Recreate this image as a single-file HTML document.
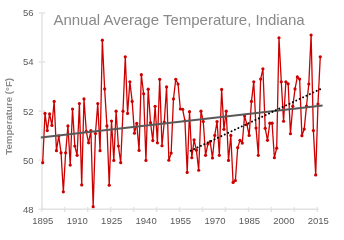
<!DOCTYPE html>
<html><head><meta charset="utf-8"><style>
html,body{margin:0;padding:0;background:#fff;}
body{width:344px;height:235px;overflow:hidden;}
svg{display:block;will-change:transform;}
text{font-family:"Liberation Sans",sans-serif;}
</style></head><body>
<svg width="344" height="235" viewBox="0 0 344 235">
<rect width="344" height="235" fill="#fff"/>
<g stroke="#e2e2e2" stroke-width="1.4" fill="none">
<line x1="42.0" y1="13.00" x2="42.0" y2="209.3"/>
<line x1="42.0" y1="209.3" x2="318.5" y2="209.3"/>
<line x1="38.7" y1="13.00" x2="45.2" y2="13.00"/><line x1="38.7" y1="62.06" x2="45.2" y2="62.06"/><line x1="38.7" y1="111.12" x2="45.2" y2="111.12"/><line x1="38.7" y1="160.18" x2="45.2" y2="160.18"/><line x1="38.7" y1="209.24" x2="45.2" y2="209.24"/><line x1="41.80" y1="207" x2="41.80" y2="212"/><line x1="64.76" y1="207" x2="64.76" y2="212"/><line x1="87.72" y1="207" x2="87.72" y2="212"/><line x1="110.68" y1="207" x2="110.68" y2="212"/><line x1="133.64" y1="207" x2="133.64" y2="212"/><line x1="156.60" y1="207" x2="156.60" y2="212"/><line x1="179.56" y1="207" x2="179.56" y2="212"/><line x1="202.52" y1="207" x2="202.52" y2="212"/><line x1="225.48" y1="207" x2="225.48" y2="212"/><line x1="248.44" y1="207" x2="248.44" y2="212"/><line x1="271.40" y1="207" x2="271.40" y2="212"/><line x1="294.36" y1="207" x2="294.36" y2="212"/><line x1="317.32" y1="207" x2="317.32" y2="212"/>
</g>
<g fill="#595959" font-size="9.5"><text x="33.6" y="16.40" text-anchor="end">56</text><text x="33.6" y="65.46" text-anchor="end">54</text><text x="33.6" y="114.52" text-anchor="end">52</text><text x="33.6" y="163.58" text-anchor="end">50</text><text x="33.6" y="212.64" text-anchor="end">48</text></g>
<g fill="#595959" font-size="9.5" text-anchor="middle"><text x="42.80" y="224">1895</text><text x="77.24" y="224">1910</text><text x="111.68" y="224">1925</text><text x="146.12" y="224">1940</text><text x="180.56" y="224">1955</text><text x="215.00" y="224">1970</text><text x="249.44" y="224">1985</text><text x="283.88" y="224">2000</text><text x="318.32" y="224">2015</text></g>
<text x="53.4" y="25.4" font-size="15" fill="#898989">Annual Average Temperature, Indiana</text>
<text transform="translate(12.1,154.8) rotate(-90)" font-size="9.7" font-weight="bold" fill="#8a8a8a">Temperature (°F)</text>
<g>
<polyline points="42.70,162.63 44.99,113.41 47.29,130.55 49.58,113.90 51.88,125.41 54.17,101.41 56.46,150.63 58.76,135.94 61.05,152.84 63.35,191.78 65.64,152.84 67.93,125.90 70.23,165.08 72.52,109.00 74.82,145.98 77.11,155.29 79.40,103.61 81.70,184.92 83.99,98.96 86.29,131.29 88.58,142.80 90.87,130.55 93.17,206.72 95.46,133.49 97.76,103.61 100.05,150.63 102.34,40.18 104.64,88.92 106.93,125.90 109.23,185.16 111.52,121.00 113.81,160.43 116.11,111.20 118.40,145.98 120.70,162.63 122.99,111.20 125.28,56.84 127.58,113.41 129.87,81.82 132.17,101.41 134.46,133.25 136.75,123.45 139.05,150.39 141.34,74.71 143.64,93.82 145.93,160.43 148.22,89.16 150.52,122.72 152.81,140.59 155.11,106.31 157.40,142.80 159.69,79.37 161.99,145.74 164.28,121.98 166.58,86.96 168.87,160.18 171.16,153.08 173.46,98.96 175.75,79.37 178.05,84.02 180.34,109.00 182.63,109.25 184.93,120.76 187.22,172.43 189.52,111.69 191.81,157.74 194.10,139.86 196.40,150.14 198.69,170.23 200.99,111.20 203.28,121.49 205.57,155.29 207.87,144.02 210.16,141.57 212.46,157.98 214.75,135.45 217.04,121.49 219.34,155.29 221.63,89.41 223.93,129.33 226.22,111.20 228.51,160.43 230.81,135.45 233.10,182.47 235.40,180.51 237.69,147.69 239.98,140.35 242.28,143.04 244.57,116.10 246.87,124.43 249.16,135.45 251.45,101.41 253.75,81.82 256.04,128.10 258.34,155.29 260.63,79.12 262.92,68.84 265.22,128.35 267.51,140.35 269.81,123.20 272.10,123.20 274.39,157.74 276.69,148.18 278.98,37.73 281.28,81.82 283.57,121.25 285.86,81.82 288.16,83.78 290.45,133.74 292.75,106.31 295.04,88.92 297.33,76.92 299.63,79.12 301.92,135.69 304.22,129.08 306.51,106.06 308.80,84.02 311.10,35.04 313.39,130.55 315.69,174.88 317.98,104.10 320.27,56.84" fill="none" stroke="#cc0000" stroke-width="1.3" stroke-linejoin="round"/>
<g fill="#cc0000"><circle cx="42.70" cy="162.63" r="1.6"/><circle cx="44.99" cy="113.41" r="1.6"/><circle cx="47.29" cy="130.55" r="1.6"/><circle cx="49.58" cy="113.90" r="1.6"/><circle cx="51.88" cy="125.41" r="1.6"/><circle cx="54.17" cy="101.41" r="1.6"/><circle cx="56.46" cy="150.63" r="1.6"/><circle cx="58.76" cy="135.94" r="1.6"/><circle cx="61.05" cy="152.84" r="1.6"/><circle cx="63.35" cy="191.78" r="1.6"/><circle cx="65.64" cy="152.84" r="1.6"/><circle cx="67.93" cy="125.90" r="1.6"/><circle cx="70.23" cy="165.08" r="1.6"/><circle cx="72.52" cy="109.00" r="1.6"/><circle cx="74.82" cy="145.98" r="1.6"/><circle cx="77.11" cy="155.29" r="1.6"/><circle cx="79.40" cy="103.61" r="1.6"/><circle cx="81.70" cy="184.92" r="1.6"/><circle cx="83.99" cy="98.96" r="1.6"/><circle cx="86.29" cy="131.29" r="1.6"/><circle cx="88.58" cy="142.80" r="1.6"/><circle cx="90.87" cy="130.55" r="1.6"/><circle cx="93.17" cy="206.72" r="1.6"/><circle cx="95.46" cy="133.49" r="1.6"/><circle cx="97.76" cy="103.61" r="1.6"/><circle cx="100.05" cy="150.63" r="1.6"/><circle cx="102.34" cy="40.18" r="1.6"/><circle cx="104.64" cy="88.92" r="1.6"/><circle cx="106.93" cy="125.90" r="1.6"/><circle cx="109.23" cy="185.16" r="1.6"/><circle cx="111.52" cy="121.00" r="1.6"/><circle cx="113.81" cy="160.43" r="1.6"/><circle cx="116.11" cy="111.20" r="1.6"/><circle cx="118.40" cy="145.98" r="1.6"/><circle cx="120.70" cy="162.63" r="1.6"/><circle cx="122.99" cy="111.20" r="1.6"/><circle cx="125.28" cy="56.84" r="1.6"/><circle cx="127.58" cy="113.41" r="1.6"/><circle cx="129.87" cy="81.82" r="1.6"/><circle cx="132.17" cy="101.41" r="1.6"/><circle cx="134.46" cy="133.25" r="1.6"/><circle cx="136.75" cy="123.45" r="1.6"/><circle cx="139.05" cy="150.39" r="1.6"/><circle cx="141.34" cy="74.71" r="1.6"/><circle cx="143.64" cy="93.82" r="1.6"/><circle cx="145.93" cy="160.43" r="1.6"/><circle cx="148.22" cy="89.16" r="1.6"/><circle cx="150.52" cy="122.72" r="1.6"/><circle cx="152.81" cy="140.59" r="1.6"/><circle cx="155.11" cy="106.31" r="1.6"/><circle cx="157.40" cy="142.80" r="1.6"/><circle cx="159.69" cy="79.37" r="1.6"/><circle cx="161.99" cy="145.74" r="1.6"/><circle cx="164.28" cy="121.98" r="1.6"/><circle cx="166.58" cy="86.96" r="1.6"/><circle cx="168.87" cy="160.18" r="1.6"/><circle cx="171.16" cy="153.08" r="1.6"/><circle cx="173.46" cy="98.96" r="1.6"/><circle cx="175.75" cy="79.37" r="1.6"/><circle cx="178.05" cy="84.02" r="1.6"/><circle cx="180.34" cy="109.00" r="1.6"/><circle cx="182.63" cy="109.25" r="1.6"/><circle cx="184.93" cy="120.76" r="1.6"/><circle cx="187.22" cy="172.43" r="1.6"/><circle cx="189.52" cy="111.69" r="1.6"/><circle cx="191.81" cy="157.74" r="1.6"/><circle cx="194.10" cy="139.86" r="1.6"/><circle cx="196.40" cy="150.14" r="1.6"/><circle cx="198.69" cy="170.23" r="1.6"/><circle cx="200.99" cy="111.20" r="1.6"/><circle cx="203.28" cy="121.49" r="1.6"/><circle cx="205.57" cy="155.29" r="1.6"/><circle cx="207.87" cy="144.02" r="1.6"/><circle cx="210.16" cy="141.57" r="1.6"/><circle cx="212.46" cy="157.98" r="1.6"/><circle cx="214.75" cy="135.45" r="1.6"/><circle cx="217.04" cy="121.49" r="1.6"/><circle cx="219.34" cy="155.29" r="1.6"/><circle cx="221.63" cy="89.41" r="1.6"/><circle cx="223.93" cy="129.33" r="1.6"/><circle cx="226.22" cy="111.20" r="1.6"/><circle cx="228.51" cy="160.43" r="1.6"/><circle cx="230.81" cy="135.45" r="1.6"/><circle cx="233.10" cy="182.47" r="1.6"/><circle cx="235.40" cy="180.51" r="1.6"/><circle cx="237.69" cy="147.69" r="1.6"/><circle cx="239.98" cy="140.35" r="1.6"/><circle cx="242.28" cy="143.04" r="1.6"/><circle cx="244.57" cy="116.10" r="1.6"/><circle cx="246.87" cy="124.43" r="1.6"/><circle cx="249.16" cy="135.45" r="1.6"/><circle cx="251.45" cy="101.41" r="1.6"/><circle cx="253.75" cy="81.82" r="1.6"/><circle cx="256.04" cy="128.10" r="1.6"/><circle cx="258.34" cy="155.29" r="1.6"/><circle cx="260.63" cy="79.12" r="1.6"/><circle cx="262.92" cy="68.84" r="1.6"/><circle cx="265.22" cy="128.35" r="1.6"/><circle cx="267.51" cy="140.35" r="1.6"/><circle cx="269.81" cy="123.20" r="1.6"/><circle cx="272.10" cy="123.20" r="1.6"/><circle cx="274.39" cy="157.74" r="1.6"/><circle cx="276.69" cy="148.18" r="1.6"/><circle cx="278.98" cy="37.73" r="1.6"/><circle cx="281.28" cy="81.82" r="1.6"/><circle cx="283.57" cy="121.25" r="1.6"/><circle cx="285.86" cy="81.82" r="1.6"/><circle cx="288.16" cy="83.78" r="1.6"/><circle cx="290.45" cy="133.74" r="1.6"/><circle cx="292.75" cy="106.31" r="1.6"/><circle cx="295.04" cy="88.92" r="1.6"/><circle cx="297.33" cy="76.92" r="1.6"/><circle cx="299.63" cy="79.12" r="1.6"/><circle cx="301.92" cy="135.69" r="1.6"/><circle cx="304.22" cy="129.08" r="1.6"/><circle cx="306.51" cy="106.06" r="1.6"/><circle cx="308.80" cy="84.02" r="1.6"/><circle cx="311.10" cy="35.04" r="1.6"/><circle cx="313.39" cy="130.55" r="1.6"/><circle cx="315.69" cy="174.88" r="1.6"/><circle cx="317.98" cy="104.10" r="1.6"/><circle cx="320.27" cy="56.84" r="1.6"/></g>
</g>
<line x1="40.8" y1="137.5" x2="322.6" y2="105.4" stroke="#595959" stroke-width="2"/>
<line x1="190.7" y1="150.7" x2="320.6" y2="89.0" stroke="#000" stroke-width="2" stroke-linecap="round" stroke-dasharray="0.01,3.76"/>
</svg>
</body></html>
